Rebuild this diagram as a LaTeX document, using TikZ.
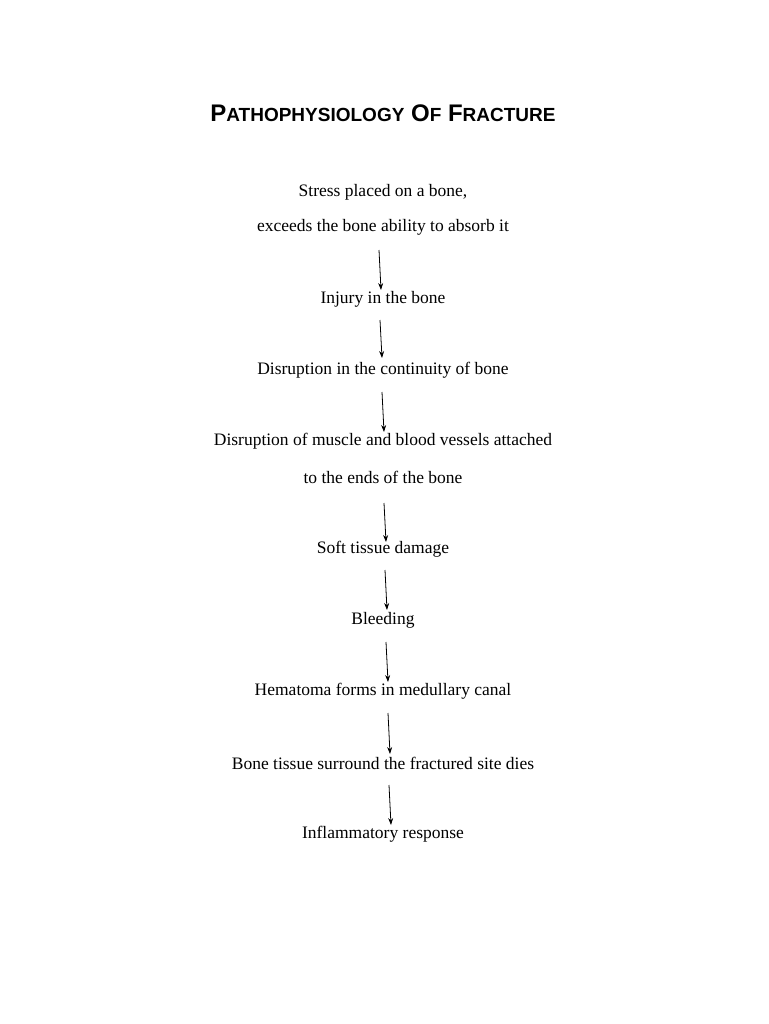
\documentclass[tikz,border=0pt]{standalone}
\usepackage{fontspec}
\setmainfont{Liberation Serif}
\newfontfamily\titlefont{Liberation Sans}
\usetikzlibrary{arrows.meta}
\begin{document}
\begin{tikzpicture}[x=1pt,y=-1pt,
  txt/.style={inner sep=0pt,font=\fontsize{17.5}{20}\selectfont},
  arr/.style={-{Stealth[length=7pt,width=5pt]},line width=0.8pt}]
\useasboundingbox (0,0) rectangle (768,1024);
\node[inner sep=0pt,font=\titlefont\bfseries\fontsize{24}{28}\selectfont] (title) at (383,113)
  {P{\fontsize{19}{22}\selectfont ATHOPHYSIOLOGY} O{\fontsize{19}{22}\selectfont F} F{\fontsize{19}{22}\selectfont RACTURE}};
\node[txt] (t1) at (383,192) {Stress placed on a bone,};
\node[txt] (t1b) at (383,227) {exceeds the bone ability to absorb it};
\node[txt] (t2) at (383,299) {Injury in the bone};
\node[txt] (t3) at (383,370) {Disruption in the continuity of bone};
\node[txt] (t4) at (383,441) {Disruption of muscle and blood vessels attached};
\node[txt] (t4b) at (383,477) {to the ends of the bone};
\node[txt] (t5) at (383,549) {Soft tissue damage};
\node[txt] (t6) at (383,620) {Bleeding};
\node[txt] (t7) at (383,691) {Hematoma forms in medullary canal};
\node[txt] (t8) at (383,763) {Bone tissue surround the fractured site dies};
\node[txt] (t9) at (383,834) {Inflammatory response};
\foreach \i/\ax/\ay/\bx/\by in {1/379/250/381/290, 2/380/320/382/358, 3/382/392/384/432, 4/384/503/386/542, 5/385/570/387/610, 6/386/642/388/682, 7/388/713/390/754, 8/389/785/391/825}{
  \coordinate (a\i) at (\ax,\ay);
  \coordinate (b\i) at (\bx,\by);
  \draw[arr] (a\i) -- (b\i);
}
\end{tikzpicture}
\end{document}
